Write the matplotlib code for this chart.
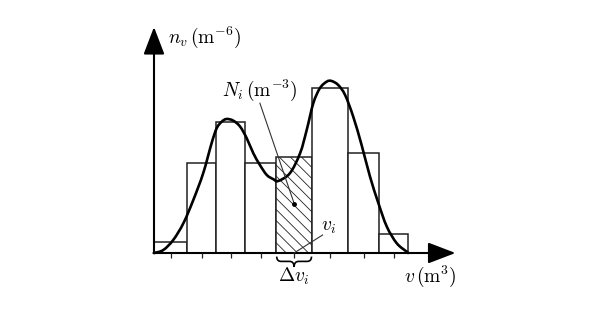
import matplotlib
matplotlib.use("Agg")
import matplotlib.pyplot as plt
import numpy as np
from matplotlib.path import Path
from matplotlib.patches import PathPatch

plt.rcParams['mathtext.fontset'] = 'cm'

# histogram bins (arbitrary units of v)
bin_edges = [0.0, 1.11, 2.08, 3.04, 4.07, 5.27, 6.48, 7.51, 8.48]
bin_heights = [0.57, 4.52, 6.54, 4.52, 4.82, 8.24, 5.02, 0.94]
highlight = 4

# smooth distribution n_v(v)
curve_v = [0.0, 0.31, 0.64, 0.98, 1.31, 1.64, 1.92, 2.09, 2.26, 2.42, 2.64, 2.87,
           3.09, 3.31, 3.53, 3.76, 3.98, 4.14, 4.53, 4.87, 5.09, 5.31, 5.53, 5.76,
           5.92, 6.14, 6.37, 6.64, 6.92, 7.20, 7.48, 7.76, 8.09, 8.42, 8.48]
curve_n = [0.0, 0.15, 0.65, 1.49, 2.65, 3.99, 5.49, 6.24, 6.57, 6.70, 6.62, 6.32,
           5.74, 4.99, 4.40, 3.90, 3.69, 3.60, 3.99, 4.99, 6.15, 7.49, 8.24, 8.57,
           8.60, 8.40, 7.90, 6.82, 5.40, 3.82, 2.49, 1.32, 0.49, 0.07, 0.0]

fig = plt.figure(figsize=(6, 3.15), dpi=100)
ax = fig.add_axes([0, 0, 1, 1])
ax.set_xlim(-154 / 30, (600 - 154) / 30)
ax.set_ylim(-62 / 20, 253 / 20)
ax.axis('off')

edges = np.array(bin_edges)
lefts = edges[:-1]
widths = np.diff(edges)
centers = lefts + widths / 2

plt.rcParams['hatch.linewidth'] = 0.6
for i, (l, w, h) in enumerate(zip(lefts, widths, bin_heights)):
    ax.bar(l, h, width=w, align='edge', facecolor='white', edgecolor='#222222',
           linewidth=1.1, hatch='\\\\\\' if i == highlight else None, zorder=2)

# smooth rendering of the curve through the read points (Catmull-Rom -> Bezier)
P = np.column_stack([curve_v, curve_n])
verts = [tuple(P[0])]
codes = [Path.MOVETO]
for k in range(len(P) - 1):
    p0 = P[k - 1] if k > 0 else P[k]
    p1, p2 = P[k], P[k + 1]
    p3 = P[k + 2] if k + 2 < len(P) else P[k + 1]
    c1 = p1 + (p2 - p0) / 6
    c2 = p2 - (p3 - p1) / 6
    verts += [tuple(c1), tuple(c2), tuple(p2)]
    codes += [Path.CURVE4] * 3
ax.add_patch(PathPatch(Path(verts, codes), facecolor='none', edgecolor='black',
                       lw=1.9, zorder=4))

# axes with arrows
ax.annotate('', xy=(0, 11.3), xytext=(0, -0.02),
            arrowprops=dict(arrowstyle='-|>,head_length=1.7,head_width=0.65',
                            mutation_scale=10, lw=1.5, color='black',
                            shrinkA=0, shrinkB=0), zorder=5)
ax.annotate('', xy=(10.05, 0), xytext=(-0.02, 0),
            arrowprops=dict(arrowstyle='-|>,head_length=1.7,head_width=0.65',
                            mutation_scale=10, lw=1.5, color='black',
                            shrinkA=0, shrinkB=0), zorder=5)

# ticks at bin centers
ax.vlines(centers, -0.25, 0, color='#222222', lw=0.9, zorder=5)

fs = 14
ax.text(0.45, 10.8, r'$n_v\,(\mathrm{m}^{-6})$', fontsize=fs, ha='left', va='center')
ax.text(9.2, -1.15, r'$v\,(\mathrm{m}^{3})$', fontsize=fs, ha='center', va='center')

# N_i annotation
xc = centers[highlight]
ax.plot([3.53, 4.68], [7.49, 2.44], color='#333333', lw=0.8, zorder=5)
ax.plot([4.68], [2.44], 'o', color='black', ms=2.5, zorder=6)
ax.text(3.53, 8.15, r'$N_i\,(\mathrm{m}^{-3})$', fontsize=fs, ha='center', va='center')

# v_i annotation
ax.plot([5.62, xc], [0.9, 0], color='#333333', lw=0.8, zorder=5)
ax.text(5.83, 1.3, r'$v_i$', fontsize=fs, ha='center', va='center')

# brace under highlighted bin
x0, x1 = edges[highlight] + 0.02, edges[highlight + 1] - 0.02
top, mid, tip, q = -0.18, -0.42, -0.7, 0.15
verts = [(x0, top), (x0, mid), (x0 + q, mid),
         (xc - q, mid),
         (xc, mid), (xc, tip),
         (xc, mid), (xc + q, mid),
         (x1 - q, mid),
         (x1, mid), (x1, top)]
codes = [Path.MOVETO, Path.CURVE3, Path.CURVE3,
         Path.LINETO,
         Path.CURVE3, Path.CURVE3,
         Path.CURVE3, Path.CURVE3,
         Path.LINETO,
         Path.CURVE3, Path.CURVE3]
ax.add_patch(PathPatch(Path(verts, codes), facecolor='none', edgecolor='black',
                       lw=1.2, zorder=5))
ax.text(xc, -1.15, r'$\Delta v_i$', fontsize=fs, ha='center', va='center')

fig.savefig('out.png', dpi=100)
